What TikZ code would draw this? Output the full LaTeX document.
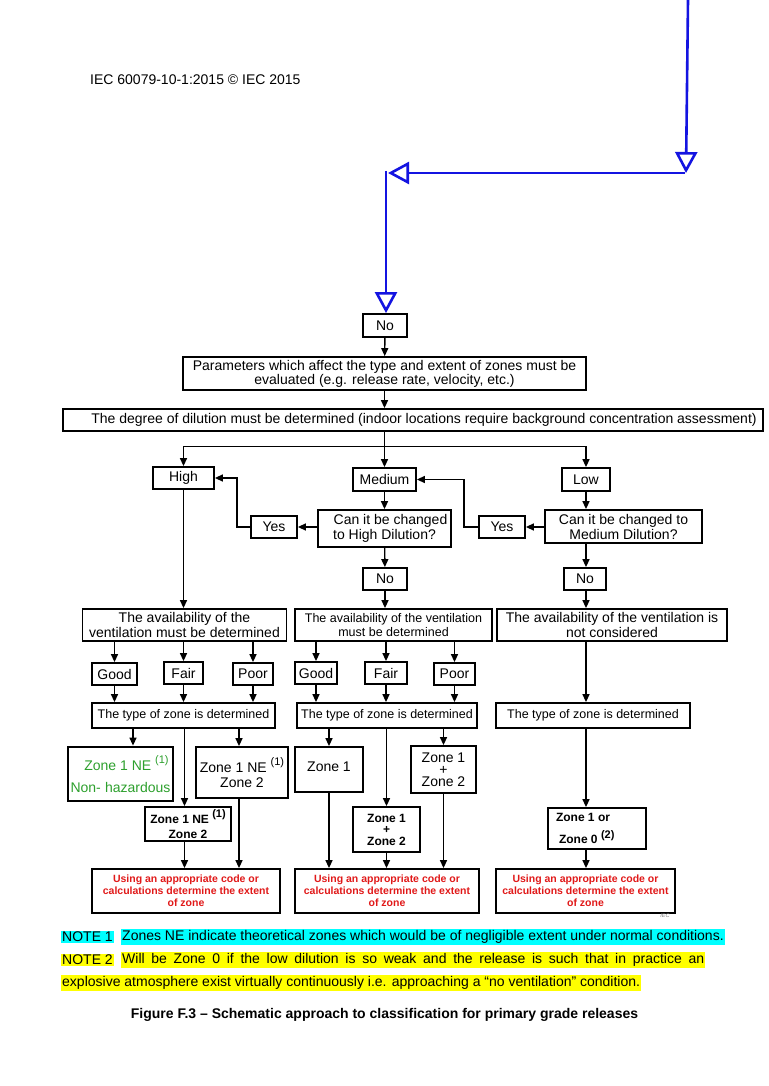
\documentclass[tikz,border=0pt]{standalone}
\usepackage{fontspec}
\setmainfont{Liberation Sans}
\usetikzlibrary{arrows.meta}
\definecolor{bluearr}{RGB}{20,20,225}
\definecolor{zgreen}{RGB}{45,160,45}
\definecolor{zred}{RGB}{225,25,25}
\definecolor{hlcyan}{RGB}{0,255,255}
\definecolor{hlyellow}{RGB}{255,255,0}
\newcommand{\fsz}[2]{\fontsize{#1}{#2}\selectfont}
\newcommand{\supn}[1]{\raisebox{0.45em}{\fsz{11}{11}(#1)}}
\begin{document}
\begin{tikzpicture}[x=1pt,y=-1pt,
 box/.style={draw, line width=1.8pt, inner sep=0pt, align=center, font=\fsz{14}{15}},
 redbox/.style={box, text=zred, font=\bfseries\fsz{10.5}{12}},
 arr/.style={line width=1.4pt, -{Triangle[length=8pt,width=7pt]}},
 ln/.style={line width=1.4pt},
 barr/.style={draw=bluearr, line width=2.6pt, -{Triangle[open,length=21pt,width=22pt,line width=2.6pt]}},
 bln/.style={draw=bluearr, line width=2.6pt},
 note/.style={anchor=west, inner sep=1pt, font=\fsz{14}{15}},
]
\useasboundingbox[fill=white] (0,0) rectangle (768,1086);

% header
\node[anchor=west, inner sep=0pt, font=\fsz{14}{15}] (hdr) at (90,80) {IEC 60079-10-1:2015 © IEC 2015};

% nodes
\node[box, minimum width=44pt, minimum height=23pt] (no0) at (385,325.5) {No};
\node[box, minimum width=403pt, minimum height=33pt] (param) at (384.5,373.5) {Parameters which affect the type and extent of zones must be\\[-1pt] evaluated (e.g. release rate, velocity, etc.)};
\node[box, minimum width=700pt, minimum height=22pt] (dil) at (413,420) {\hspace*{22pt}The degree of dilution must be determined (indoor locations require background concentration assessment)};

\node[box, minimum width=61pt, minimum height=22pt] (high) at (183.5,478) {High};
\node[box, minimum width=63pt, minimum height=23pt] (med) at (384.5,479.5) {Medium};
\node[box, minimum width=48pt, minimum height=23pt] (low) at (586,479.5) {Low};

\node[box, minimum width=133pt, minimum height=37pt] (canhigh) at (384.5,528.5) {\hspace*{12pt}Can it be changed\\to High Dilution?};
\node[box, minimum width=46pt, minimum height=22pt] (yes1) at (274,527) {Yes};
\node[box, minimum width=157pt, minimum height=33pt] (canmed) at (623.5,526.5) {Can it be changed to\\Medium Dilution?};
\node[box, minimum width=46pt, minimum height=22pt] (yes2) at (502,527) {Yes};
\node[box, minimum width=44pt, minimum height=22pt] (no1) at (385,579) {No};
\node[box, minimum width=42pt, minimum height=22pt] (no2) at (585,579) {No};

\node[box, minimum width=204pt, minimum height=32pt] (ventL) at (184.5,625) {The availability of the\\ventilation must be determined};
\node[box, minimum width=197pt, minimum height=32pt, font=\fsz{12.5}{14}] (ventM) at (393.5,625) {The availability of the ventilation\\must be determined};
\node[box, minimum width=230pt, minimum height=32pt] (ventR) at (612,625) {The availability of the ventilation is\\not considered};

\node[box, minimum width=45pt, minimum height=22pt] (goodL) at (114.5,674) {Good};
\node[box, minimum width=39pt, minimum height=22pt] (fairL) at (183.5,673) {Fair};
\node[box, minimum width=40pt, minimum height=22pt] (poorL) at (253,674) {Poor};
\node[box, minimum width=42pt, minimum height=22pt] (goodM) at (316,673) {Good};
\node[box, minimum width=42pt, minimum height=22pt] (fairM) at (386,673) {Fair};
\node[box, minimum width=41pt, minimum height=22pt] (poorM) at (454.5,674) {Poor};

\node[box, minimum width=183pt, minimum height=25pt, font=\fsz{12.5}{14}] (typeL) at (183.5,715.5) {The type of zone is determined};
\node[box, minimum width=180pt, minimum height=25pt, font=\fsz{12.5}{14}] (typeM) at (387,715.5) {The type of zone is determined};
\node[box, minimum width=194pt, minimum height=25pt, font=\fsz{12.5}{14}] (typeR) at (593,715.5) {The type of zone is determined};

\node[box, line width=2.8pt, minimum width=105pt, minimum height=54pt, text=zgreen] (zgreen) at (120.5,774) {\hspace*{12pt}Zone 1 NE \supn{1}\\[7pt]Non-\hspace{0.3em}hazardous};
\node[box, minimum width=92pt, minimum height=51pt] (zL2) at (242,772.5) {Zone 1 NE \supn{1}\\Zone 2};
\node[box, minimum width=86pt, minimum height=34pt, font=\bfseries\fsz{12}{15}] (zLb) at (188,824) {Zone 1 NE \supn{1}\\Zone 2};
\node[redbox, minimum width=188pt, minimum height=44pt] (redL) at (186,891) {Using an appropriate code or\\calculations determine the extent\\of zone};

\node[box, minimum width=68pt, minimum height=45pt] (zM1) at (329,769.5) {\raisebox{6pt}{Zone 1}};
\node[box, minimum width=65pt, minimum height=47pt, font=\fsz{14}{12}] (zM3) at (443.5,769.5) {Zone 1\\+\\Zone 2};
\node[box, minimum width=67pt, minimum height=45pt, font=\bfseries\fsz{12}{11.5}] (zMb) at (386.5,829.5) {Zone 1\\+\\Zone 2};
\node[redbox, minimum width=184pt, minimum height=44pt] (redM) at (387,891) {Using an appropriate code or\\calculations determine the extent\\of zone};

\node[box, minimum width=98pt, minimum height=41pt, align=left, font=\bfseries\fsz{12}{22}] (zR) at (597,828.5) {Zone 1 or\hspace*{28pt}\\\hspace*{3pt}Zone 0 \supn{2}};
\node[redbox, minimum width=179pt, minimum height=44pt] (redR) at (585.5,891) {Using an appropriate code or\\calculations determine the extent\\of zone};

\node[inner sep=0pt, text=gray, font=\itshape\fsz{5.5}{5.5}] (iec) at (665,915.5) {IEC};

% blue arrows
\coordinate (b0) at (688,0);
\coordinate (b1) at (686,173);
\coordinate (b2) at (386,173);
\draw[barr] (b0) -- (b1);
\draw[barr] (685,173) -- (388,173);
\draw[bln] (386,171) -- (386,200);
\draw[barr] (b2 |- 0,190) -- (no0.north -| b2);

% connectors
\draw[arr] (no0) -- (param);
\draw[arr] (param) -- (param.south |- dil.north);
\coordinate (sp) at (384.5,446.5);
\draw[ln] (dil.south -| sp) -- (sp);
\draw[arr] (sp) -- (med.north);
\draw[arr] (sp) -| (high.north);
\draw[arr] (sp) -| (low.north);

\draw[arr] (med) -- (canhigh);
\draw[arr] (canhigh.west |- yes1) -- (yes1.east);
\coordinate (k1) at (237,0);
\draw[arr] (yes1.west) -- (yes1.west -| k1) |- (high.east);
\draw[arr] (canhigh) -- (no1);
\draw[arr] (low.south) -- (low.south |- canmed.north);
\draw[arr] (canmed.west |- yes2) -- (yes2.east);
\coordinate (k2) at (464,0);
\draw[arr] (yes2.west) -- (yes2.west -| k2) |- (med.east);
\draw[arr] (canmed.south -| low) -- (no2.north -| low);

\draw[arr] (high.south) -- (ventL.north -| high);
\draw[arr] (no1.south) -- (ventM.north -| no1);
\draw[arr] (no2.south -| low) -- (ventR.north -| low);

\foreach \n in {goodL,fairL,poorL}{
  \draw[arr] (ventL.south -| \n) -- (\n.north);
  \draw[arr] (\n.south) -- (typeL.north -| \n);
}
\foreach \n in {goodM,fairM,poorM}{
  \draw[arr] (ventM.south -| \n) -- (\n.north);
  \draw[arr] (\n.south) -- (typeM.north -| \n);
}
\draw[arr] (ventR.south -| low) -- (typeR.north -| low);

\coordinate (c1) at (133,0);
\coordinate (c2) at (184.5,0);
\coordinate (c3) at (239,0);
\draw[arr] (typeL.south -| c1) -- (zgreen.north -| c1);
\draw[arr] (typeL.south -| c2) -- (zLb.north -| c2);
\draw[arr] (typeL.south -| c3) -- (zL2.north -| c3);
\draw[arr] (zLb.south -| c2) -- (redL.north -| c2);
\draw[arr] (zL2.south -| c3) -- (redL.north -| c3);

\draw[arr] (typeM.south -| zM1) -- (zM1.north);
\draw[arr] (typeM.south -| zMb) -- (zMb.north);
\draw[arr] (typeM.south -| zM3) -- (zM3.north);
\draw[arr] (zM1.south) -- (redM.north -| zM1);
\draw[arr] (zMb.south) -- (redM.north -| zMb);
\draw[arr] (zM3.south) -- (redM.north -| zM3);

\draw[arr] (typeR.south -| low) -- (zR.north -| low);
\draw[arr] (zR.south -| low) -- (redR.north -| low);

% notes
\node[note, fill=hlcyan] (n1a) at (61,937) {NOTE 1};
\node[note, fill=hlcyan] (n1b) at (121,937) {Zones NE indicate theoretical zones which would be of negligible extent under normal conditions.};
\node[note, fill=hlyellow] (n2a) at (61,960) {NOTE 2};
\node[note, fill=hlyellow] (n2b) at (121,960) {\makebox[582pt][s]{Will be Zone 0 if the low dilution is so weak and the release is such that in practice an}};
\node[note, fill=hlyellow] (n3) at (61,983) {explosive atmosphere exist virtually continuously i.e. approaching a “no ventilation” condition.};

\node[inner sep=0pt, font=\bfseries\fsz{14}{15}] (cap) at (384.5,1015) {Figure F.3 – Schematic approach to classification for primary grade releases};
\end{tikzpicture}
\end{document}
